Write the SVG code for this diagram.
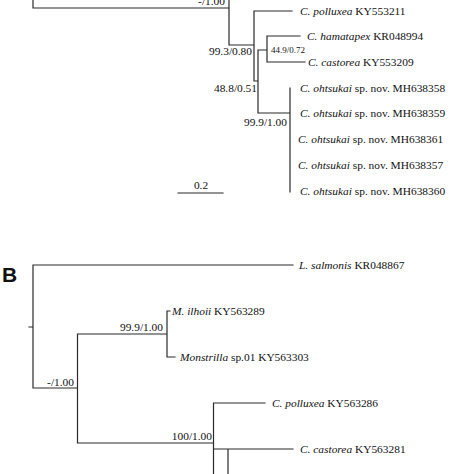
<svg xmlns="http://www.w3.org/2000/svg" width="474" height="474" viewBox="0 0 474 474">
<style>
.e{stroke:#2a2a2a;stroke-width:1.2;fill:none;stroke-linecap:square}
.t{font-family:"Liberation Serif","Times New Roman",serif;font-size:11.4px;fill:#111}
.s{font-family:"Liberation Serif","Times New Roman",serif;font-size:11.4px;fill:#111;text-anchor:end}
.m{font-family:"Liberation Serif","Times New Roman",serif;font-size:9px;fill:#111}
.i{font-style:italic}
.p{font-family:"Liberation Sans",Arial,sans-serif;font-size:21px;font-weight:bold;fill:#111}
</style>
<rect width="474" height="474" fill="#fff"/>
<g id="connectors">
<path class="e" d="M33,0V8H229M229,0V45H254M254,11V81H258M254,11H292M258,50V113H290M258,50H267M267,36V62M267,36H300M267,62H305M290,88V192"/>
<path class="e" d="M178,193H223"/>
<path class="e" d="M29,327H33M33,265V388M33,265H293M33,388H77.5M77.5,334V443M77.5,334H167M167,311V357M167,311H170M167,357H175M77.5,443H213.5M213.5,403V474M213.5,403H265M213.5,449H228M228,449V474M228,449H293"/>
</g>
<g id="panelA">
<g id="nA1"><text class="s" x="225" y="4.5">-/1.00</text></g>
<g id="nA2"><text class="s" x="252" y="55">99.3/0.80</text></g>
<g id="nA3"><text class="s" x="257" y="92">48.8/0.51</text></g>
<g id="nA4"><text class="m" x="271" y="53">44.9/0.72</text></g>
<g id="nA5"><text class="s" x="287" y="126">99.9/1.00</text></g>
<g id="leafA1"><text class="t" x="300" y="15"><tspan class="i">C. polluxea</tspan> KY553211</text></g>
<g id="leafA2"><text class="t" x="307" y="40"><tspan class="i">C. hamatapex</tspan> KR048994</text></g>
<g id="leafA3"><text class="t" x="308" y="66"><tspan class="i">C. castorea</tspan> KY553209</text></g>
<g id="leafA4"><text class="t" x="300" y="92"><tspan class="i">C. ohtsukai</tspan> sp. nov. MH638358</text></g>
<g id="leafA5"><text class="t" x="300" y="117"><tspan class="i">C. ohtsukai</tspan> sp. nov. MH638359</text></g>
<g id="leafA6"><text class="t" x="298" y="143"><tspan class="i">C. ohtsukai</tspan> sp. nov. MH638361</text></g>
<g id="leafA7"><text class="t" x="298" y="169"><tspan class="i">C. ohtsukai</tspan> sp. nov. MH638357</text></g>
<g id="leafA8"><text class="t" x="300" y="195"><tspan class="i">C. ohtsukai</tspan> sp. nov. MH638360</text></g>
<g id="scale"><text class="t" x="201" y="189" text-anchor="middle">0.2</text></g>
</g>
<g id="panelB">
<text class="p" x="2" y="282">B</text>
<g id="nB1"><text class="s" x="74" y="386">-/1.00</text></g>
<g id="nB2"><text class="s" x="163" y="331">99.9/1.00</text></g>
<g id="nB3"><text class="s" x="212" y="440">100/1.00</text></g>
<g id="leafB1"><text class="t" x="299" y="269"><tspan class="i">L. salmonis</tspan> KR048867</text></g>
<g id="leafB2"><text class="t" x="172" y="315"><tspan class="i">M. ilhoii</tspan> KY563289</text></g>
<g id="leafB3"><text class="t" x="180" y="361"><tspan class="i">Monstrilla</tspan> sp.01 KY563303</text></g>
<g id="leafB4"><text class="t" x="272" y="407"><tspan class="i">C. polluxea</tspan> KY563286</text></g>
<g id="leafB5"><text class="t" x="300" y="453"><tspan class="i">C. castorea</tspan> KY563281</text></g>
</g>
</svg>
